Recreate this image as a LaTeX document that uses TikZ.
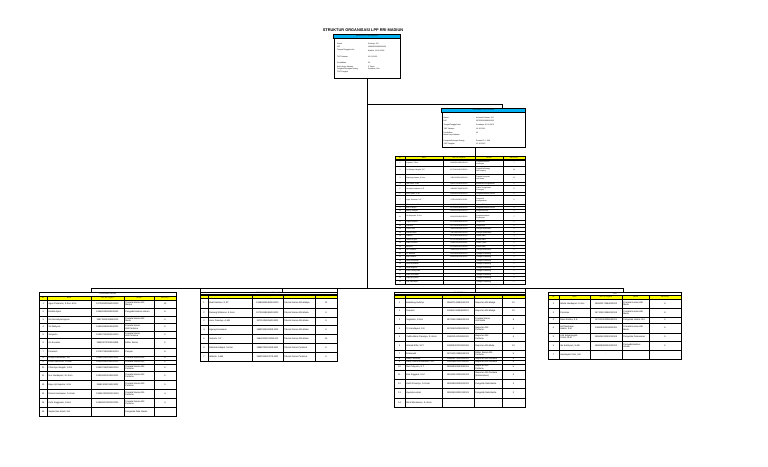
\documentclass[tikz,border=0pt]{standalone}
\usepackage{fontspec}
\setmainfont{Liberation Sans}
\usetikzlibrary{positioning}

\definecolor{hdryellow}{RGB}{255,255,0}
\definecolor{barblue}{RGB}{0,176,240}

% column edges of the table that is drawn next
\newcommand{\tablecols}[6]{\def\cA{#1}\def\cB{#2}\def\cC{#3}\def\cD{#4}\def\cE{#5}\def\cF{#6}}
% #1 name, #2/#3 header top/bottom, #4 font style, #5 rows
\newcommand{\stafftable}[5]{%
  \node[headrow, minimum width={\cF-\cA}, minimum height={#3-#2}, anchor=north west] (#1-head) at (\cA,#2) {};
  \foreach \cx in {\cB,\cC,\cD,\cE} \draw[grid] (\cx,#2) -- (\cx,#3);
  \pgfmathsetmacro\yh{(#2+#3)/2}
  \node[hdrtxt] (#1-h1) at ({(\cA+\cB)/2},\yh) {No};
  \node[hdrtxt] (#1-h2) at ({(\cB+\cC)/2},\yh) {Nama};
  \node[hdrtxt] (#1-h3) at ({(\cC+\cD)/2},\yh) {NIP / No. Pegawai};
  \node[hdrtxt] (#1-h4) at ({(\cD+\cE)/2},\yh) {Jabatan};
  \node[hdrtxt] (#1-h5) at ({(\cE+\cF)/2},\yh) {Masa Kerja};
  \foreach \ya/\yb/\rn/\nama/\nip/\jab/\mk in {#5} {
    \pgfmathsetmacro\ym{(\ya+\yb)/2}
    \draw[grid] (\cA,\ya) rectangle (\cF,\yb);
    \foreach \cx in {\cB,\cC,\cD,\cE} \draw[grid] (\cx,\ya) -- (\cx,\yb);
    \node[cell, #4] (#1-\rn-no) at ({(\cA+\cB)/2},\ym) {\rn};
    \node[cell, #4, anchor=west] (#1-\rn-nama) at (\cB+1,\ym) {\nama};
    \node[cell, #4] (#1-\rn-nip) at ({(\cC+\cD)/2},\ym) {\nip};
    \node[cell, #4, anchor=west] (#1-\rn-jab) at (\cD+1,\ym) {\jab};
    \node[cell, #4] (#1-\rn-mk) at ({(\cE+\cF)/2},\ym) {\mk};
    \coordinate (#1-bot) at (\cA,\yb);
  }
  \draw[frame] (#1-head.north west) rectangle (#1-bot -| #1-head.east);
}

\begin{document}
\begin{tikzpicture}[
    x=1pt, y=-1pt,
    link/.style={draw=black, line width=1pt},
    grid/.style={draw=black, line width=0.55pt},
    frame/.style={draw=black, line width=0.9pt},
    infobox/.style={draw=black, fill=white, line width=0.8pt, inner sep=0pt},
    bluebar/.style={draw=black, fill=barblue, line width=0.5pt},
    headrow/.style={draw=black, fill=hdryellow, line width=0.5pt, inner sep=0pt},
    titlerow/.style={draw=black, fill=white, line width=0.7pt, inner sep=0pt, font=\fontsize{1.7}{2}\selectfont},
    hdrtxt/.style={inner sep=0pt, font=\fontsize{1.5}{1.8}\selectfont},
    cell/.style={inner sep=0.2pt, align=left},
    rowfont/.style={font=\fontsize{2.2}{2.5}\selectfont},
    tufont/.style={font=\fontsize{1.7}{2}\selectfont},
    boxtxt/.style={inner sep=0pt, anchor=west, font=\fontsize{1.8}{2.1}\selectfont},
    charttitle/.style={font=\bfseries\fontsize{3.9}{4.5}\selectfont}
]
\path[use as bounding box, fill=white] (0,0) rectangle (768,466);

% Title
\node[charttitle] (chart-title) at (363,30) {STRUKTUR ORGANISASI LPP RRI MADIUN};

% Kepala box
\node[infobox, minimum width=66, minimum height=43] (kepala) at (367,56.5) {};
\draw[bluebar] (kepala.north west) rectangle ([yshift=-3.3]kepala.north east);
\node[boxtxt, anchor=center] (kepala-jab) at ([yshift=-1.65]kepala.north) {KEPALA LPP RRI MADIUN};
\foreach \yy/\lab/\val [count=\k] in {
    44/Nama/{Sunaryo, S.E},
    46.7/NIP/196905121993031004,
    50.5/{Tempat/Tanggal Lahir}/{Madiun, 12-05-1969},
    56.7/{TMT Jabatan}/01-02-2022,
    62.7/Pendidikan/S1,
    66.7/{Masa Kerja Jabatan}/{2 Tahun},
    69.3/{Pangkat/Golongan Ruang}/{Pembina, IV/a},
    71.7/{TMT Pangkat}/{}} {
    \node[boxtxt] (kepala-l\k) at (337,\yy) {\lab};
    \node[boxtxt] (kepala-v\k) at (368,\yy) {\val};
}

% Kasubbag TU box
\node[infobox, minimum width=83, minimum height=38] (tubox) at (483.5,128) {};
\draw[bluebar] (tubox.north west) rectangle ([yshift=-3.3]tubox.north east);
\node[boxtxt, anchor=center] (tubox-jab) at ([yshift=-1.65]tubox.north) {KASUBBAG TATA USAHA};
\foreach \yy/\lab/\val [count=\k] in {
    117.7/Nama/{Achmad Santoso, S.E},
    121/NIP/197506201998031003,
    125/{Tempat/Tanggal Lahir}/{Surabaya, 20-06-1975},
    128.7/{TMT Jabatan}/10-10-2021,
    132.7/Pendidikan/S1,
    135.5/{Masa Kerja Jabatan}/{-},
    141/{Pangkat/Golongan Ruang}/{Penata Tk. I, III/d},
    144.3/{TMT Pangkat}/01-10-2020} {
    \node[boxtxt] (tubox-l\k) at (443.5,\yy) {\lab};
    \node[boxtxt] (tubox-v\k) at (476,\yy) {\val};
}

% Tata usaha staff
\tablecols{395}{405}{443}{475}{503}{525}
\stafftable{tu}{156}{159.5}{tufont}{
    159.5/166/1/{Suyatno, S.Sos}/196805121990031004/{Pengadministrasi\\Keuangan}/7,
    166/174/2/{Sri Rahayu Ningsih, S.E}/197203101997032001/{Pengelola Barang\\Milik Negara}/10,
    174/182/3/{Bambang Irawan, S.Kom}/198101152006041003/{Pranata Komputer\\Ahli Muda}/12,
    182/185.5/4/{Dwi Astuti, A.Md}/198507222009012002/{Bendahara Pengeluaran}/5,
    185.5/192/5/{Hendra Kurniawan, S.E}/198304172008011005/{Analis Pengelolaan\\Keuangan}/8,
    192/195.5/6/{Yuni Lestari, S.AP}/198906302014022001/{Pengadministrasi Umum}/6,
    195.5/204/7/{Agus Setiawan, S.E}/197811042005011002/{Pengelola\\Kepegawaian}/9,
    204/206.5/8/{Rina Marlina, S.H}/199002142015032003/{Analis SDM Aparatur}/4,
    206.5/209/9/{Eko Prasetyo}/197605201998031006/{Pengadministrasi Umum}/3,
    209/212.5/10/{Wahyu Hidayat}/198012102006041002/{Pengelola Arsip}/3,
    212.5/220.5/11/{Siti Nurjanah, S.Sos}/196912251992032001/{Pengadministrasi\\Persuratan}/7,
    220.5/224/12/{Teguh Santoso}/197509081999031003/{Pengemudi}/5,
    224/227.5/13/{Sumarno}/197102141993031002/{Pengemudi}/6,
    227.5/231/14/{Joko Susilo}/198203182009011004/{Petugas Keamanan}/4,
    231/234.5/15/{Ahmad Fauzi}/198708052010011003/{Petugas Keamanan}/4,
    234.5/238/16/{Suparmi}/197404161998032002/{Pramu Bakti}/3,
    238/241.5/17/{Slamet Riyadi}/197007301994031001/{Pramu Bakti}/3,
    241.5/245/18/{Didik Purnomo}/198510252011011002/{Teknisi Listrik}/2,
    245/248.5/19/{Mulyono}/197303221997031003/{Pramu Bakti}/2,
    248.5/252/20/{Heri Susanto}/198611302012121002/{Petugas Keamanan}/2,
    252/255.5/21/{Tri Wahyuni}/199104092018012001/{Tenaga Pendukung}/2,
    255.5/259/22/{Budi Hartono}/198802282014031001/{Tenaga Pendukung}/2,
    259/262.5/23/{Nanik Setyowati}/-/{Tenaga Pendukung}/1,
    262.5/266/24/{Rudi Hermawan}/-/{Tenaga Pendukung}/1,
    266/269.5/25/{Fajar Nugroho}/-/{Tenaga Pendukung}/1,
    269.5/273/26/{Wiwik Sulistyowati}/-/{Tenaga Pendukung}/1,
    273/276.5/27/{Andri Kurniawan}/-/{Tenaga Pendukung}/1,
    276.5/280/28/{Sugeng Riyanto}/-/{Tenaga Pendukung}/1,
    280/284/29/{Lilik Handayani}/-/{Tenaga Pendukung}/1}

% Section titles
\node[titlerow, minimum width=137, minimum height=4, anchor=north west] (t1-title) at (39,292) {PROGRAMA SIARAN};
\node[titlerow, minimum width=137, minimum height=3, anchor=north west] (t2-title) at (200,291.5) {TEKNOLOGI DAN MEDIA BARU};
\node[titlerow, minimum width=131, minimum height=3, anchor=north west] (t3-title) at (394,291.5) {PEMBERITAAN};
\node[titlerow, minimum width=133, minimum height=3.5, anchor=north west] (t4-title) at (548,291.5) {LPU};
% empty merged cells above the titles
\draw[grid] (t2-title.north west) -- ++(0,-3.5) -| (t2-title.north east);
\draw[grid] (475,288) -- (475,291.5) (t3-title.north east) -- ++(0,-3.5);

% Programa siaran
\tablecols{39}{47.3}{91}{124}{154}{176}
\stafftable{t1}{296}{300}{rowfont}{
    300/308/1/{Agus Purwanto, S.Sos, M.Si}/197008121994031002/{Pranata Siaran Ahli\\Madya}/10,
    308/316/2/{Endah Ayuni}/196905151993032001/{Pengadministrasi Umum}/8,
    316/323/3/{Ika Nurcahyaningrum}/198711102008122002/{Pranata Siaran Ahli\\Muda}/9,
    323/331/4/{Sri Wahyuni}/198009182006042001/{Pranata Siaran\\Ahli Pertama}/6,
    331/338/5/{Suryanto}/198007122006041003/{Pranata Siaran\\Ahli Pertama}/6,
    338/348/6/{Ari Susanto}/198110072006041008/{Editor Siaran}/5,
    348/356/7/{Purwanti}/197607141998032004/{Penyiar}/8,
    356/360/8/{Rizky Ramadhan, S.E}/198912082014021001/{Pranata Siaran Ahli}/6,
    360/364/9/{Arum Retnosari, S.Hum}/199005142015032002/{Pranata Siaran Ahli}/6,
    364/371/10/{Fitria Ayu Ningsih, S.Pd}/199207162019022003/{Pranata Siaran Ahli\\Pertama}/6,
    371/380/11/{Nur Handayani, S.I.Kom}/199309212019022001/{Pranata Siaran Ahli\\Pertama}/5,
    380/389/12/{Bayu Aji Saputra, S.Sn}/199411052019021002/{Pranata Siaran Ahli\\Pertama}/5,
    389/398/13/{Dimas Kurniawan, S.I.Kom}/199512302020121004/{Pranata Siaran Ahli\\Pertama}/4,
    398/407/14/{Putri Anggraeni, S.Sos}/199608172020122001/{Pranata Siaran Ahli\\Pertama}/4,
    407/416/15/{Septia Dwi Astuti, S.E}/-/{Pengelola Data Siaran}/{}}

% Teknologi dan media baru
\tablecols{200}{208}{252}{283}{315}{337}
\stafftable{t2}{294.5}{298}{rowfont}{
    298/308/1/{Budi Santoso, S.ST}/196806041992031003/{Teknisi Siaran Ahli Madya}/12,
    308/317/2/{Danang Wibisono, S.Kom}/197009181995031001/{Teknisi Siaran Ahli Muda}/9,
    317/325/3/{Heru Prasetyo, A.Md}/197112051996031002/{Teknisi Siaran Ahli Muda}/9,
    325/334/4/{Agung Kurniawan}/198303262009011003/{Teknisi Siaran Ahli Muda}/8,
    334/343/5/{Suharto, S.T}/198601112010011002/{Teknisi Siaran Ahli Muda}/10,
    343/352/6/{Rahmat Hidayat, S.Kom}/198807232013011001/{Teknisi Siaran Pertama}/6,
    352/361/7/{Widodo, A.Md}/199003152017011002/{Teknisi Siaran Pertama}/6}

% Pemberitaan
\tablecols{394}{405}{442}{474}{502}{525}
\stafftable{t3}{294.5}{298}{rowfont}{
    298/307/1/{Bambang Sulistyo}/196807141993031002/{Reporter Ahli Madya}/10,
    307/315/2/{Sumarni}/196911211994032001/{Reporter Ahli Madya}/10,
    315/324/3/{Sugiharto, S.Sos}/197204101998031003/{Pranata Siaran\\Ahli Muda}/8,
    324/333/4/{Tri Handayani, S.E}/197806252005022001/{Reporter Ahli\\Pertama}/6,
    333/341/5/{Yudha Bima Prasetya, S.I.Kom}/198202162008011002/{Reporter Ahli\\Pertama}/6,
    341/350/6/{Ahmad Rifai, S.Pt}/198409302009011004/{Reporter Ahli Muda}/10,
    350/357/7/{Endarwati}/197512101999032002/{Editor Siaran Ahli\\Pertama}/5,
    357/360/8/{Hadi Purnomo}/198504172010011003/{Reporter Ahli Pertama}/4,
    360/364/9/{Indah Kusuma Wardani, S.E}/198706112012122002/{Reporter Ahli Pertama}/4,
    364/370/10/{Dwi Cahyono, S.T}/198908302014031001/{Reporter Ahli\\Pertama}/5,
    370/379/11/{Eka Anggara, S.I.P}/199103122015031002/{Reporter Ahli Pertama\\(Kameramen)}/5,
    379/388/12/{Galih Prasetyo, S.I.Kom}/199208262019021001/{Pengolah Data Berita}/3,
    388/398/13/{Ayunda Lestari}/199504182020122001/{Pengolah Data Berita}/3,
    398/407/14/{Rizal Wicaksono, S.I.Kom}/-/{}/{}}

% LPU
\tablecols{548}{559}{590}{622}{649}{681}
\stafftable{t4}{295}{299}{rowfont}{
    299/308/1/{Wiwik Handayani, S.Sos}/196902171994032002/{Pranata Humas Ahli\\Muda}/8,
    308/317/2/{Purnomo}/197105121996031004/{Pranata Humas Ahli\\Muda}/8,
    317/323/3/{Dewi Kartika, S.E}/197910302006042001/{Pengelola Usaha LPU}/6,
    323/333/4/{Arif Rachman\\Hakim, S.M}/198304052009011003/{Pranata Humas Ahli\\Muda}/6,
    333/341/5/{Lilik Setyaningsih,\\S.Sos, M.M}/198506212010012004/{Pengelola Pemasaran}/5,
    341/350/6/{Ika Sulistyani, S.AB}/198808082014022002/{Pengadministrasi\\Umum}/5,
    350/359/7/{Handayani Putri, S.E}/-/{}/{}}

% Connectors
\coordinate (tuelbow) at (502,104);
\coordinate (busW) at (91,288);
\coordinate (busE) at (623,288);
\coordinate (drop2) at (282,288);
\coordinate (drop3) at (475,288);
\draw[link] (kepala.south) -- (kepala.south |- busW);
\draw[link] (kepala.south |- tuelbow) -- (tuelbow) -- (tuelbow |- tubox.north);
\draw[link] (drop3 |- tubox.south) -- (drop3 |- tu-head.north);
\draw[link] (drop3 |- tu-bot) -- (drop3);
\draw[link] (busW) -- (busE);
\draw[link] (busW) -- (busW |- t1-title.north);
\draw[link] (drop2) -- (drop2 |- t2-title.north);
\draw[link] (drop3) -- (drop3 |- t3-title.north);
\draw[link] (busE) -- (busE |- t4-title.north);

\end{tikzpicture}
\end{document}
